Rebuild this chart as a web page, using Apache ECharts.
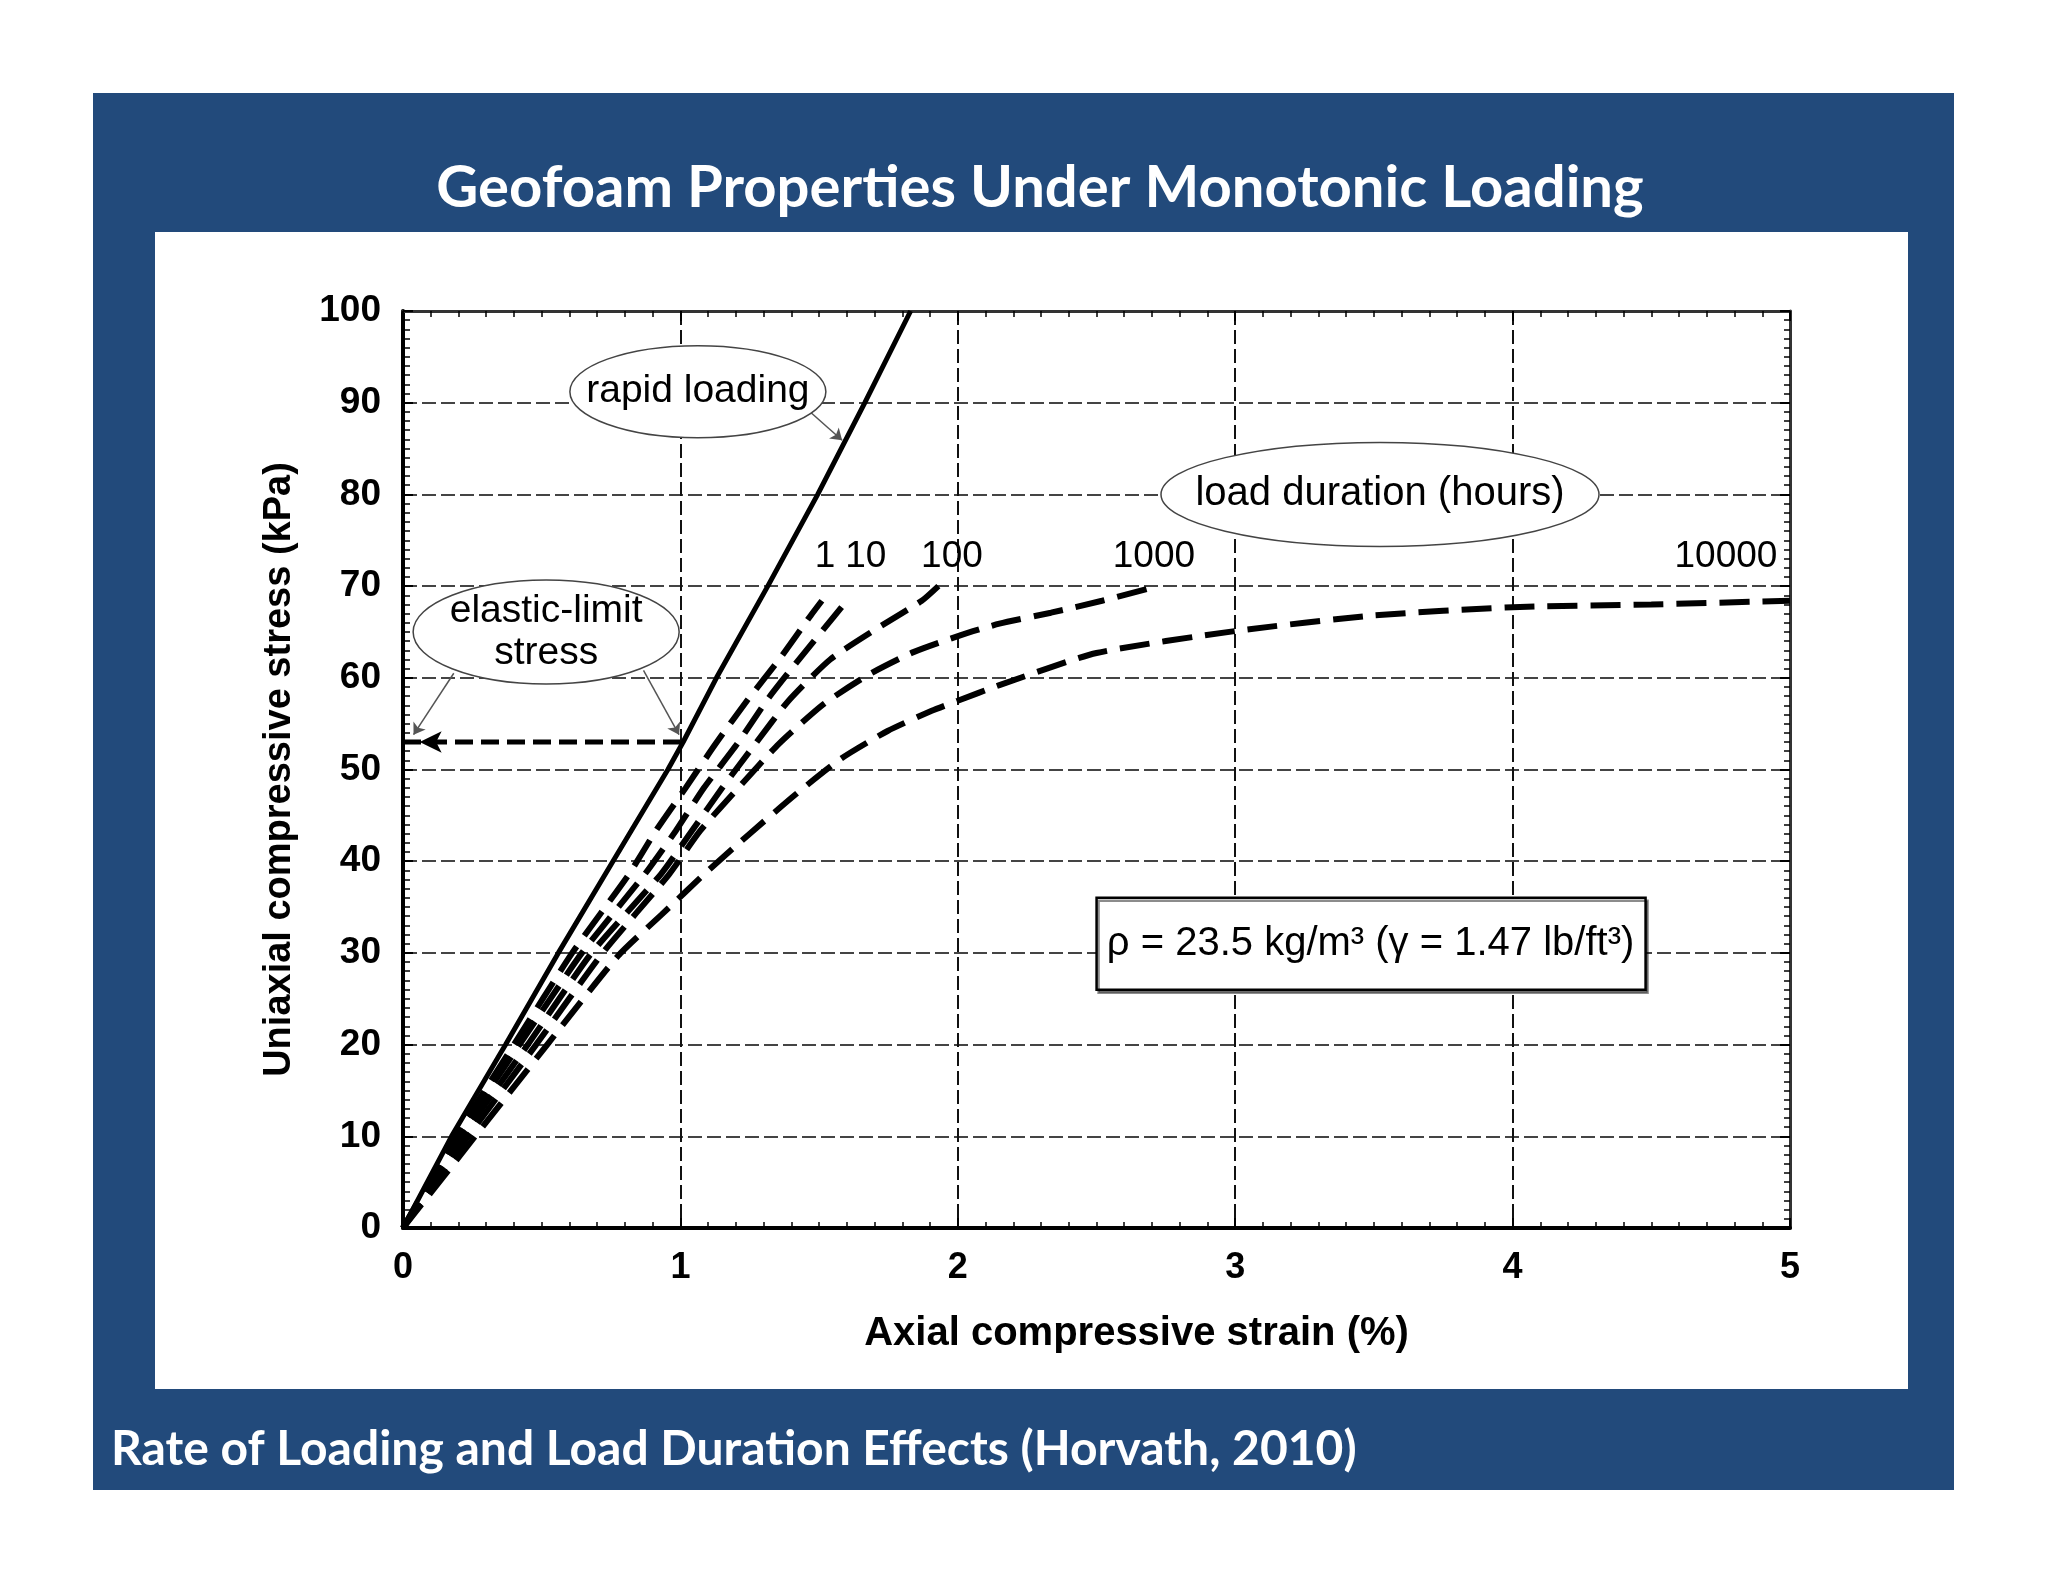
<!DOCTYPE html>
<html>
<head>
<meta charset="utf-8">
<script src="https://cdn.jsdelivr.net/npm/echarts@6/dist/echarts.min.js"></script>
<style>
html, body { margin: 0; padding: 0; background: #fff; }
#main { width: 2048px; height: 1582px; }
</style>
</head>
<body>
<div id="main"></div>
<script>
// values, [strain (%), stress (kPa)]
var rapidLoading = [[0, 0], [0.175, 10], [0.37, 20], [0.56, 30], [0.757, 40], [0.955, 50], [1.01, 53], [1.13, 60], [1.315, 70], [1.495, 80], [1.665, 90], [1.83, 100]];
var hours1 = [[0, 0], [0.19, 10], [0.40, 20], [0.61, 30], [0.815, 38.6], [0.911, 43.3], [1.019, 48], [1.127, 52.8], [1.24, 57.5], [1.356, 62], [1.47, 66.8], [1.51, 68.4]];
var hours10 = [[0, 0], [0.2, 10], [0.42, 20], [0.645, 30], [0.872, 38.6], [0.983, 43.3], [1.085, 48], [1.205, 52.8], [1.313, 57.6], [1.43, 62.1], [1.554, 66.7], [1.6, 68.4]];
var hours100 = [[0, 0], [0.215, 10], [0.45, 20], [0.68, 30], [0.93, 38.6], [1.041, 43.3], [1.151, 48], [1.27, 52.8], [1.39, 57.5], [1.54, 62], [1.71, 65.4], [1.87, 68.4], [1.93, 70]];
var hours1000 = [[0, 0], [0.235, 10], [0.48, 20], [0.72, 30], [0.96, 38.6], [1.071, 43.3], [1.209, 48], [1.355, 52.8], [1.515, 57.1], [1.676, 60.3], [1.84, 62.8], [2.006, 64.6], [2.15, 65.9], [2.336, 67.1], [2.52, 68.4], [2.72, 70]];
var hours10000 = [[0, 0], [0.26, 10], [0.52, 20], [0.776, 29.7], [0.933, 34.2], [1.09, 38.7], [1.25, 43], [1.416, 47.3], [1.58, 51.2], [1.747, 54.2], [1.906, 56.4], [2.0, 57.5], [2.15, 59.2], [2.5, 62.7], [3.0, 65.1], [3.5, 66.8], [4.0, 67.7], [4.5, 68.0], [5.0, 68.4]];
var elasticLimit = [[0, 53], [1, 53]];
var durationLabels = ['1', '10', '100', '1000', '10000'];

// where the notes sit (data units)
var durationLabelAt = [[1.521, 73.2], [1.668, 73.2], [1.979, 73.2], [2.707, 73.2], [4.769, 73.2]];
var rapidNoteAt = [1.063, 91.2];
var elasticNoteAt = [0.516, 65.0];
var durationNoteAt = [3.522, 80.0];
var densityBoxAt = [3.488, 31.0];
var elasticArrowAt = [0.06, 53];
var noteArrows = [
  [[1.471, 88.9], [1.583, 85.9]],
  [[0.183, 60.5], [0.038, 53.8]],
  [[0.867, 60.8], [0.995, 53.8]]
];

var chart = echarts.init(document.getElementById('main'));

var axisFont = 'Liberation Sans';

function creepSeries(name, data) {
  return {
    name: name,
    type: 'line',
    data: data,
    symbol: 'none',
    smooth: 0.2,
    silent: true,
    z: 3,
    lineStyle: { color: '#000', width: 6, type: [30, 13], cap: 'butt' }
  };
}

var option = {
  animation: false,
  backgroundColor: '#fff',
  grid: { left: 403, right: 258, top: 311, bottom: 354, containLabel: false, outerBoundsMode: 'none' },
  xAxis: [{
    type: 'value', min: 0, max: 5, interval: 1, position: 'bottom',
    axisLine: { show: true, onZero: false, lineStyle: { color: '#000', width: 4 } },
    axisTick: { show: true, inside: true, length: 10, lineStyle: { color: '#000', width: 2 } },
    minorTick: { show: true, splitNumber: 10, length: 6, lineStyle: { color: '#000', width: 1.5 } },
    axisLabel: { fontFamily: axisFont, fontWeight: 'bold', fontSize: 36, color: '#000', margin: 22 },
    splitLine: { show: true, lineStyle: { type: [14, 5], color: '#111', width: 2 } },
    name: 'Axial compressive strain (%)', nameLocation: 'middle', nameGap: 86,
    nameTextStyle: { fontFamily: axisFont, fontWeight: 'bold', fontSize: 40, color: '#000', padding: [0, 0, 0, 80] }
  }, {
    type: 'value', min: 0, max: 5, interval: 1, position: 'top',
    axisLine: { show: true, onZero: false, lineStyle: { color: '#333', width: 3 } },
    axisTick: { show: true, inside: true, length: 10, lineStyle: { color: '#000', width: 2 } },
    minorTick: { show: true, splitNumber: 10, length: 6, lineStyle: { color: '#000', width: 1.5 } },
    axisLabel: { show: false },
    splitLine: { show: false }
  }],
  yAxis: [{
    type: 'value', min: 0, max: 100, interval: 10, position: 'left',
    axisLine: { show: true, onZero: false, lineStyle: { color: '#000', width: 4 } },
    axisTick: { show: true, inside: true, length: 10, lineStyle: { color: '#000', width: 2 } },
    minorTick: { show: true, splitNumber: 10, length: 7, lineStyle: { color: '#000', width: 1.5 } },
    axisLabel: { fontFamily: axisFont, fontWeight: 'bold', fontSize: 37, color: '#000', margin: 22 },
    splitLine: { show: true, lineStyle: { type: [14, 5], color: '#444', width: 2 } },
    name: 'Uniaxial compressive stress (kPa)', nameLocation: 'middle', nameGap: 104,
    nameTextStyle: { fontFamily: axisFont, fontWeight: 'bold', fontSize: 38, color: '#000' }
  }, {
    type: 'value', min: 0, max: 100, interval: 10, position: 'right',
    axisLine: { show: true, onZero: false, lineStyle: { color: '#333', width: 3 } },
    axisTick: { show: true, inside: true, length: 10, lineStyle: { color: '#000', width: 2 } },
    minorTick: { show: true, splitNumber: 10, length: 6, lineStyle: { color: '#000', width: 1.5 } },
    axisLabel: { show: false },
    splitLine: { show: false }
  }],
  series: [
    {
      name: 'rapid loading', type: 'line', data: rapidLoading, symbol: 'none', silent: true, z: 3,
      lineStyle: { color: '#000', width: 5 }
    },
    creepSeries('1 h', hours1),
    creepSeries('10 h', hours10),
    creepSeries('100 h', hours100),
    creepSeries('1000 h', hours1000),
    creepSeries('10000 h', hours10000),
    {
      name: 'elastic-limit stress', type: 'line', data: elasticLimit, symbol: 'none', silent: true, z: 3,
      lineStyle: { color: '#000', width: 5, type: [18, 8], cap: 'butt' },
      markPoint: {
        silent: true,
        symbol: 'arrow', symbolSize: [16, 22], symbolRotate: 90,
        itemStyle: { color: '#000' },
        label: { show: false },
        data: [{ coord: elasticArrowAt }]
      },
      markLine: {
        silent: true,
        symbol: ['none', 'arrow'], symbolSize: 11,
        lineStyle: { color: '#555', width: 1.5, type: 'solid' },
        label: { show: false },
        data: noteArrows.map(function (a) { return [{ coord: a[0] }, { coord: a[1] }]; })
      }
    }
  ],
  graphic: [
    { type: 'rect', z: -10, silent: true, shape: { x: 93, y: 93, width: 1861, height: 1397 }, style: { fill: '#224A7B' } },
    { type: 'rect', z: -9, silent: true, shape: { x: 155, y: 232, width: 1753, height: 1157 }, style: { fill: '#fff' } },
    {
      type: 'text', z: 20, x: 1040, y: 188,
      style: { text: 'Geofoam Properties Under Monotonic Loading', fill: '#fff', fontFamily: 'Lato', fontWeight: 'bold', fontSize: 58, align: 'center', verticalAlign: 'middle' }
    },
    {
      type: 'text', z: 20, x: 111, y: 1450,
      style: { text: 'Rate of Loading and Load Duration Effects (Horvath, 2010)', fill: '#fff', fontFamily: 'Lato', fontWeight: 'bold', fontSize: 48, align: 'left', verticalAlign: 'middle' }
    }
  ]
};

chart.setOption(option);

// notes placed from data coordinates
function px(p) { return chart.convertToPixel({ gridIndex: 0 }, p); }

function noteText(at, text, size) {
  var p = px(at);
  return {
    type: 'text', z: 12, x: p[0], y: p[1], silent: true,
    style: { text: text, fill: '#000', fontFamily: axisFont, fontSize: size, lineHeight: 42, align: 'center', verticalAlign: 'middle' }
  };
}

function noteEllipse(at, rx, ry) {
  var p = px(at);
  return {
    type: 'ellipse', z: 10, silent: true,
    shape: { cx: p[0], cy: p[1], rx: rx, ry: ry },
    style: { fill: '#fff', stroke: '#444', lineWidth: 1.5 }
  };
}

var notes = option.graphic.slice();
notes.push(noteEllipse(rapidNoteAt, 128, 46));
notes.push(noteText(rapidNoteAt, 'rapid loading', 39));
notes.push(noteEllipse(elasticNoteAt, 133, 52));
notes.push(noteText(elasticNoteAt, 'elastic-limit\nstress', 39));
notes.push(noteEllipse(durationNoteAt, 219, 52));
notes.push(noteText(durationNoteAt, 'load duration (hours)', 40));

var boxCenter = px(densityBoxAt);
notes.push({
  type: 'rect', z: 10, silent: true,
  shape: { x: boxCenter[0] - 274, y: boxCenter[1] - 46, width: 549, height: 92 },
  style: { fill: '#fff', stroke: '#000', lineWidth: 2.5, shadowColor: 'rgba(0,0,0,0.45)', shadowOffsetX: 2, shadowOffsetY: 3 }
});
notes.push(noteText(densityBoxAt, 'ρ = 23.5 kg/m³ (γ = 1.47 lb/ft³)', 40));

durationLabels.forEach(function (t, i) {
  notes.push(noteText(durationLabelAt[i], t, 37));
});

chart.setOption({ graphic: notes }, { replaceMerge: ['graphic'] });
</script>
</body>
</html>
